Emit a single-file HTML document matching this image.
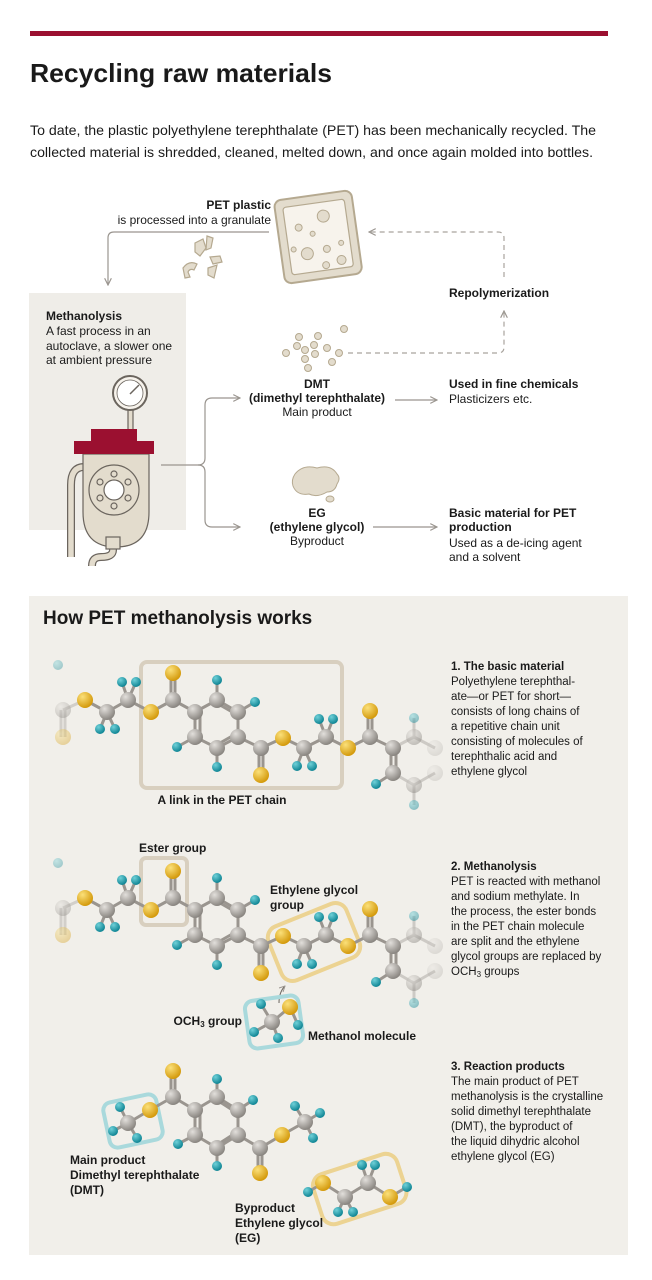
<!DOCTYPE html>
<html><head><meta charset="utf-8"><style>
html,body{margin:0;padding:0;background:#fff;width:652px;height:1280px;overflow:hidden}
svg{display:block}
text{font-family:"Liberation Sans",sans-serif;fill:#1a1a1a}
.b{font-weight:bold}
.s{font-size:12px}
.r{font-size:11.5px}
</style></head><body>
<svg width="652" height="1280" viewBox="0 0 652 1280" xmlns="http://www.w3.org/2000/svg">
<defs>
<radialGradient id="gC" cx="35%" cy="30%" r="70%"><stop offset="0" stop-color="#e2dfdb"/><stop offset="1" stop-color="#8a8681"/></radialGradient>
<radialGradient id="gO" cx="35%" cy="30%" r="70%"><stop offset="0" stop-color="#fbe07a"/><stop offset="1" stop-color="#d49a0c"/></radialGradient>
<radialGradient id="gH" cx="35%" cy="30%" r="70%"><stop offset="0" stop-color="#6fd0d8"/><stop offset="1" stop-color="#0f8594"/></radialGradient>
<marker id="ar" viewBox="0 0 10 10" refX="9" refY="5" markerWidth="7" markerHeight="7" orient="auto"><path d="M1,1 L9,5 L1,9" fill="none" stroke="#9a958f" stroke-width="1.4"/></marker>
<g id="chain">
 <g stroke="#9a958f" stroke-width="3" fill="none">
  <g opacity="0.35"><line x1="61" y1="710" x2="61" y2="737"/><line x1="65" y1="710" x2="65" y2="737"/><line x1="63" y1="710" x2="85" y2="700"/></g>
  <line x1="85" y1="700" x2="107" y2="712"/>
  <line x1="107" y1="712" x2="100" y2="729"/><line x1="107" y1="712" x2="115" y2="729"/>
  <line x1="107" y1="712" x2="128" y2="700"/>
  <line x1="128" y1="700" x2="122" y2="682"/><line x1="128" y1="700" x2="136" y2="682"/>
  <line x1="128" y1="700" x2="151" y2="712"/><line x1="151" y1="712" x2="173" y2="700"/>
  <line x1="171" y1="700" x2="171" y2="673"/><line x1="175" y1="700" x2="175" y2="673"/>
  <line x1="173" y1="700" x2="195" y2="712"/>
  <polygon points="195,712 217,700 238,712 238,737 217,748 195,737"/>
  <line x1="200" y1="716" x2="200" y2="733"/><line x1="220" y1="705" x2="234" y2="713"/><line x1="220" y1="743" x2="234" y2="735"/>
  <line x1="217" y1="700" x2="217" y2="680"/><line x1="238" y1="712" x2="255" y2="702"/><line x1="217" y1="748" x2="217" y2="767"/><line x1="195" y1="737" x2="177" y2="747"/>
  <line x1="238" y1="737" x2="261" y2="748"/>
  <line x1="259" y1="748" x2="259" y2="775"/><line x1="263" y1="748" x2="263" y2="775"/>
  <line x1="261" y1="748" x2="283" y2="738"/><line x1="283" y1="738" x2="304" y2="748"/>
  <line x1="304" y1="748" x2="297" y2="766"/><line x1="304" y1="748" x2="312" y2="766"/>
  <line x1="304" y1="748" x2="326" y2="737"/>
  <line x1="326" y1="737" x2="319" y2="719"/><line x1="326" y1="737" x2="333" y2="719"/>
  <line x1="326" y1="737" x2="348" y2="748"/><line x1="348" y1="748" x2="370" y2="737"/>
  <line x1="368" y1="737" x2="368" y2="711"/><line x1="372" y1="737" x2="372" y2="711"/>
  <line x1="370" y1="737" x2="393" y2="748"/>
  <line x1="391" y1="748" x2="391" y2="773"/><line x1="396" y1="750" x2="396" y2="771"/>
  <line x1="393" y1="773" x2="376" y2="784"/>
  <g opacity="0.4"><line x1="393" y1="748" x2="414" y2="737"/><line x1="414" y1="737" x2="414" y2="718"/><line x1="393" y1="773" x2="414" y2="785"/><line x1="414" y1="785" x2="414" y2="805"/><line x1="414" y1="737" x2="435" y2="748"/><line x1="414" y1="785" x2="435" y2="773"/></g>
 </g>
 <g opacity="0.35"><circle cx="63" cy="710" r="8" fill="url(#gC)"/><circle cx="63" cy="737" r="8" fill="url(#gO)"/><circle cx="58" cy="665" r="5" fill="url(#gH)"/></g>
 <circle cx="85" cy="700" r="8" fill="url(#gO)"/>
 <circle cx="100" cy="729" r="5" fill="url(#gH)"/><circle cx="115" cy="729" r="5" fill="url(#gH)"/>
 <circle cx="122" cy="682" r="5" fill="url(#gH)"/><circle cx="136" cy="682" r="5" fill="url(#gH)"/>
 <circle cx="107" cy="712" r="8" fill="url(#gC)"/><circle cx="128" cy="700" r="8" fill="url(#gC)"/>
 <circle cx="151" cy="712" r="8" fill="url(#gO)"/><circle cx="173" cy="700" r="8" fill="url(#gC)"/><circle cx="173" cy="673" r="8" fill="url(#gO)"/>
 <circle cx="217" cy="680" r="5" fill="url(#gH)"/><circle cx="255" cy="702" r="5" fill="url(#gH)"/><circle cx="217" cy="767" r="5" fill="url(#gH)"/><circle cx="177" cy="747" r="5" fill="url(#gH)"/>
 <circle cx="195" cy="712" r="8" fill="url(#gC)"/><circle cx="217" cy="700" r="8" fill="url(#gC)"/><circle cx="238" cy="712" r="8" fill="url(#gC)"/><circle cx="238" cy="737" r="8" fill="url(#gC)"/><circle cx="217" cy="748" r="8" fill="url(#gC)"/><circle cx="195" cy="737" r="8" fill="url(#gC)"/>
 <circle cx="261" cy="748" r="8" fill="url(#gC)"/><circle cx="261" cy="775" r="8" fill="url(#gO)"/><circle cx="283" cy="738" r="8" fill="url(#gO)"/>
 <circle cx="297" cy="766" r="5" fill="url(#gH)"/><circle cx="312" cy="766" r="5" fill="url(#gH)"/><circle cx="319" cy="719" r="5" fill="url(#gH)"/><circle cx="333" cy="719" r="5" fill="url(#gH)"/>
 <circle cx="304" cy="748" r="8" fill="url(#gC)"/><circle cx="326" cy="737" r="8" fill="url(#gC)"/>
 <circle cx="348" cy="748" r="8" fill="url(#gO)"/><circle cx="370" cy="737" r="8" fill="url(#gC)"/><circle cx="370" cy="711" r="8" fill="url(#gO)"/>
 <circle cx="393" cy="748" r="8" fill="url(#gC)"/><circle cx="393" cy="773" r="8" fill="url(#gC)"/><circle cx="376" cy="784" r="5" fill="url(#gH)"/>
 <g opacity="0.45"><circle cx="414" cy="737" r="8" fill="url(#gC)"/><circle cx="414" cy="718" r="5" fill="url(#gH)"/><circle cx="414" cy="785" r="8" fill="url(#gC)"/><circle cx="414" cy="805" r="5" fill="url(#gH)"/></g>
 <g opacity="0.2"><circle cx="435" cy="748" r="8" fill="url(#gC)"/><circle cx="435" cy="773" r="8" fill="url(#gC)"/></g>
</g>
</defs>

<!-- header -->
<rect x="30" y="31" width="578" height="5" fill="#9b1030"/>
<text x="30" y="82" class="b" font-size="26" textLength="302" lengthAdjust="spacingAndGlyphs">Recycling raw materials</text>
<text x="30" y="135" font-size="14" textLength="566" lengthAdjust="spacingAndGlyphs">To date, the plastic polyethylene terephthalate (PET) has been mechanically recycled. The</text>
<text x="30" y="157" font-size="14" textLength="563" lengthAdjust="spacingAndGlyphs">collected material is shredded, cleaned, melted down, and once again molded into bottles.</text>

<!-- top diagram -->
<rect x="29" y="293" width="157" height="237" fill="#efede8"/>
<text x="271" y="209" class="b s" text-anchor="end">PET plastic</text>
<text x="271" y="224" class="s" text-anchor="end">is processed into a granulate</text>
<path d="M269,232 H114 Q108,232 108,238 V285" fill="none" stroke="#9a958f" stroke-width="1.2" marker-end="url(#ar)"/>
<g fill="#e3dccd" stroke="#b5a990" stroke-width="1.2">
<path d="M195,243 l8,-4 l3,9 l-6,8 l-5,-4z"/><path d="M207,236 l6,2 l-2,10 l-5,2z"/><path d="M210,257 l10,-1 l2,6 l-9,2z"/>
<path d="M183,268 q6,-8 14,-4 l-3,6 q-4,-2 -6,2 l2,5 l-5,1z"/><path d="M208,268 l9,-3 l-3,13 l-6,-3z"/>
</g>
<g transform="rotate(-8 318 236)">
<rect x="279" y="195" width="78" height="84" rx="7" fill="#e3dccd" stroke="#b5a990" stroke-width="2"/>
<rect x="287" y="203" width="62" height="68" rx="3" fill="#f7f3ec" stroke="#b5a990" stroke-width="1.2"/>
<g fill="#e3dccd" stroke="#b5a990" stroke-width="1">
<circle cx="326" cy="217" r="6"/><circle cx="300" cy="225" r="3.5"/><circle cx="313" cy="233" r="2.5"/><circle cx="305" cy="252" r="6"/><circle cx="325" cy="250" r="3.5"/><circle cx="340" cy="246" r="2.5"/><circle cx="322" cy="266" r="3.5"/><circle cx="338" cy="263" r="4.5"/><circle cx="292" cy="246" r="2.5"/>
</g></g>
<path d="M504,277 V238 Q504,232 498,232 H369" fill="none" stroke="#a9a49e" stroke-width="1.2" stroke-dasharray="5,4" marker-end="url(#ar)"/>
<path d="M348,353 H498 Q504,353 504,347 V311" fill="none" stroke="#a9a49e" stroke-width="1.2" stroke-dasharray="5,4" marker-end="url(#ar)"/>
<text x="449" y="297" class="b s">Repolymerization</text>
<g fill="#e3dccd" stroke="#b5a990" stroke-width="1">
<circle cx="344" cy="329" r="3.5"/><circle cx="299" cy="337" r="3.5"/><circle cx="318" cy="336" r="3.5"/><circle cx="297" cy="346" r="3.5"/><circle cx="314" cy="345" r="3.5"/><circle cx="305" cy="350" r="3.5"/><circle cx="327" cy="348" r="3.5"/><circle cx="286" cy="353" r="3.5"/><circle cx="315" cy="354" r="3.5"/><circle cx="339" cy="353" r="3.5"/><circle cx="305" cy="359" r="3.5"/><circle cx="332" cy="362" r="3.5"/><circle cx="308" cy="368" r="3.5"/>
</g>
<text x="317" y="388" class="b s" text-anchor="middle">DMT</text>
<text x="317" y="402" class="b s" text-anchor="middle">(dimethyl terephthalate)</text>
<text x="317" y="416" class="s" text-anchor="middle">Main product</text>
<line x1="395" y1="400" x2="437" y2="400" stroke="#9a958f" stroke-width="1.2" marker-end="url(#ar)"/>
<text x="449" y="388" class="b s">Used in fine chemicals</text>
<text x="449" y="403" class="s">Plasticizers etc.</text>
<path d="M295,474 q8,-10 22,-6 q14,-4 20,6 q4,4 0,10 q-2,8 -10,8 q-10,6 -18,2 q-12,2 -16,-8 q-2,-6 2,-12z" fill="#e3dccd" stroke="#b5a990" stroke-width="1"/>
<ellipse cx="330" cy="499" rx="4" ry="3" fill="#e3dccd" stroke="#b5a990" stroke-width="1"/>
<text x="317" y="517" class="b s" text-anchor="middle">EG</text>
<text x="317" y="531" class="b s" text-anchor="middle">(ethylene glycol)</text>
<text x="317" y="545" class="s" text-anchor="middle">Byproduct</text>
<line x1="373" y1="527" x2="437" y2="527" stroke="#9a958f" stroke-width="1.2" marker-end="url(#ar)"/>
<text x="449" y="517" class="b s">Basic material for PET</text>
<text x="449" y="531" class="b s">production</text>
<text x="449" y="547" class="s">Used as a de-icing agent</text>
<text x="449" y="561" class="s">and a solvent</text>
<path d="M161,465 H198 Q205,465 205,458 V405 Q205,398 212,398 H240" fill="none" stroke="#9a958f" stroke-width="1.2" marker-end="url(#ar)"/>
<path d="M198,465 Q205,465 205,472 V520 Q205,527 212,527 H240" fill="none" stroke="#9a958f" stroke-width="1.2" marker-end="url(#ar)"/>
<text x="46" y="320" class="b s">Methanolysis</text>
<text x="46" y="335" class="s">A fast process in an</text>
<text x="46" y="350" class="s">autoclave, a slower one</text>
<text x="46" y="364" class="s">at ambient pressure</text>
<!-- autoclave -->
<g stroke="#6b655e" stroke-width="1.2">
<path d="M84,467 Q71,467 71,485 V557" fill="none" stroke="#6b655e" stroke-width="8"/>
<path d="M84,467 Q71,467 71,485 V557" fill="none" stroke="#e3dccd" stroke-width="5.5"/>
<path d="M113,545 V550 Q113,557 101,557 Q92,557 92,566" fill="none" stroke="#6b655e" stroke-width="8"/>
<path d="M113,545 V550 Q113,557 101,557 Q92,557 92,566" fill="none" stroke="#e3dccd" stroke-width="5.5"/>
<rect x="128" y="408" width="5" height="22" fill="#e3dccd"/>
<circle cx="130" cy="393" r="17" fill="#f7f3ec" stroke-width="2"/>
<circle cx="130" cy="393" r="13" fill="#fff" stroke-width="0.8"/>
<line x1="130" y1="394" x2="139" y2="385" stroke-width="1.5"/>
<path d="M83,454 H149 V512 Q149,547 116,547 Q83,547 83,512 Z" fill="#e3dccd"/>
<rect x="106" y="537" width="14" height="12" fill="#e3dccd"/>
<circle cx="114" cy="490" r="25" fill="#e3dccd"/>
<circle cx="114" cy="490" r="10" fill="#fff"/>
<g fill="#e3dccd"><circle cx="114" cy="474" r="3"/><circle cx="128" cy="482" r="3"/><circle cx="128" cy="498" r="3"/><circle cx="114" cy="506" r="3"/><circle cx="100" cy="498" r="3"/><circle cx="100" cy="482" r="3"/></g>
</g>
<rect x="91" y="429" width="46" height="13" fill="#9b1030"/>
<rect x="74" y="441" width="80" height="13" fill="#9b1030"/>

<!-- bottom panel -->
<rect x="29" y="596" width="599" height="659" fill="#f1efea"/>
<text x="43" y="624" class="b" font-size="19">How PET methanolysis works</text>

<rect x="141" y="662" width="201" height="126" rx="6" fill="none" stroke="#d8cfbf" stroke-width="4"/>
<use href="#chain"/>
<text x="222" y="804" class="b s" text-anchor="middle">A link in the PET chain</text>

<text x="451" y="670" class="b r">1. The basic material</text>
<text x="451" y="685" class="r">Polyethylene terephthal-</text><text x="451" y="700" class="r">ate—or PET for short—</text><text x="451" y="715" class="r">consists of long chains of</text><text x="451" y="730" class="r">a repetitive chain unit</text><text x="451" y="745" class="r">consisting of molecules of</text><text x="451" y="760" class="r">terephthalic acid and</text><text x="451" y="775" class="r">ethylene glycol</text>

<rect x="141" y="858" width="46" height="67" rx="5" fill="none" stroke="#d8cfbf" stroke-width="4"/>
<rect x="272" y="913" width="84" height="58" rx="12" transform="rotate(-22 314 942)" fill="none" stroke="#ecd392" stroke-width="4"/>
<use href="#chain" y="198"/>
<text x="139" y="852" class="b s">Ester group</text>
<text x="270" y="894" class="b s">Ethylene glycol</text>
<text x="270" y="909" class="b s">group</text>
<path d="M279,1003 Q279,992 285,986" fill="none" stroke="#6b655e" stroke-width="1" marker-end="url(#ar)"/>
<rect x="247" y="998" width="54" height="48" rx="8" transform="rotate(-8 274 1022)" fill="none" stroke="#a9d9dc" stroke-width="4"/>
<g stroke="#9a958f" stroke-width="3"><line x1="272" y1="1022" x2="290" y2="1007"/><line x1="290" y1="1007" x2="298" y2="1025"/><line x1="272" y1="1022" x2="261" y2="1004"/><line x1="272" y1="1022" x2="254" y2="1032"/><line x1="272" y1="1022" x2="278" y2="1038"/></g>
<circle cx="298" cy="1025" r="5" fill="url(#gH)"/><circle cx="261" cy="1004" r="5" fill="url(#gH)"/><circle cx="254" cy="1032" r="5" fill="url(#gH)"/><circle cx="278" cy="1038" r="5" fill="url(#gH)"/>
<circle cx="272" cy="1022" r="8" fill="url(#gC)"/><circle cx="290" cy="1007" r="8" fill="url(#gO)"/>
<text x="242" y="1025" class="b s" text-anchor="end">OCH<tspan font-size="8" dy="2">3</tspan><tspan dy="-2"> group</tspan></text>
<text x="308" y="1040" class="b s">Methanol molecule</text>

<text x="451" y="870" class="b r">2. Methanolysis</text>
<text x="451" y="885" class="r">PET is reacted with methanol</text><text x="451" y="900" class="r">and sodium methylate. In</text><text x="451" y="915" class="r">the process, the ester bonds</text><text x="451" y="930" class="r">in the PET chain molecule</text><text x="451" y="945" class="r">are split and the ethylene</text><text x="451" y="960" class="r">glycol groups are replaced by</text><text x="451" y="975" class="r">OCH<tspan font-size="8" dy="2">3</tspan><tspan dy="-2"> groups</tspan></text>

<rect x="106" y="1098" width="54" height="46" rx="8" transform="rotate(-12 133 1121)" fill="none" stroke="#a9d9dc" stroke-width="4"/>
<rect x="316" y="1163" width="88" height="52" rx="12" transform="rotate(-18 360 1190)" fill="none" stroke="#ecd392" stroke-width="4"/>
<g stroke="#9a958f" stroke-width="3" fill="none">
<line x1="171" y1="1097" x2="171" y2="1071"/><line x1="175" y1="1097" x2="175" y2="1071"/>
<line x1="173" y1="1097" x2="150" y2="1110"/><line x1="150" y1="1110" x2="128" y2="1123"/>
<line x1="128" y1="1123" x2="120" y2="1107"/><line x1="128" y1="1123" x2="113" y2="1131"/><line x1="128" y1="1123" x2="137" y2="1138"/>
<line x1="173" y1="1097" x2="195" y2="1110"/>
<polygon points="195,1110 217,1097 238,1110 238,1135 217,1148 195,1135"/>
<line x1="200" y1="1114" x2="200" y2="1131"/><line x1="220" y1="1102" x2="234" y2="1111"/><line x1="220" y1="1143" x2="234" y2="1134"/>
<line x1="217" y1="1097" x2="217" y2="1079"/><line x1="238" y1="1110" x2="253" y2="1100"/><line x1="217" y1="1148" x2="217" y2="1166"/><line x1="195" y1="1135" x2="178" y2="1144"/>
<line x1="238" y1="1135" x2="260" y2="1148"/>
<line x1="258" y1="1148" x2="258" y2="1173"/><line x1="262" y1="1148" x2="262" y2="1173"/>
<line x1="260" y1="1148" x2="282" y2="1135"/><line x1="282" y1="1135" x2="305" y2="1122"/>
<line x1="305" y1="1122" x2="295" y2="1106"/><line x1="305" y1="1122" x2="320" y2="1113"/><line x1="305" y1="1122" x2="313" y2="1138"/>
<line x1="308" y1="1192" x2="323" y2="1183"/><line x1="323" y1="1183" x2="345" y2="1197"/><line x1="345" y1="1197" x2="338" y2="1212"/><line x1="345" y1="1197" x2="353" y2="1212"/>
<line x1="345" y1="1197" x2="368" y2="1183"/><line x1="368" y1="1183" x2="362" y2="1165"/><line x1="368" y1="1183" x2="375" y2="1165"/><line x1="368" y1="1183" x2="390" y2="1197"/><line x1="390" y1="1197" x2="407" y2="1187"/>
</g>
<g>
<circle cx="120" cy="1107" r="5" fill="url(#gH)"/><circle cx="113" cy="1131" r="5" fill="url(#gH)"/><circle cx="137" cy="1138" r="5" fill="url(#gH)"/>
<circle cx="128" cy="1123" r="8" fill="url(#gC)"/><circle cx="150" cy="1110" r="8" fill="url(#gO)"/>
<circle cx="173" cy="1097" r="8" fill="url(#gC)"/><circle cx="173" cy="1071" r="8" fill="url(#gO)"/>
<circle cx="217" cy="1079" r="5" fill="url(#gH)"/><circle cx="253" cy="1100" r="5" fill="url(#gH)"/><circle cx="217" cy="1166" r="5" fill="url(#gH)"/><circle cx="178" cy="1144" r="5" fill="url(#gH)"/>
<circle cx="195" cy="1110" r="8" fill="url(#gC)"/><circle cx="217" cy="1097" r="8" fill="url(#gC)"/><circle cx="238" cy="1110" r="8" fill="url(#gC)"/><circle cx="238" cy="1135" r="8" fill="url(#gC)"/><circle cx="217" cy="1148" r="8" fill="url(#gC)"/><circle cx="195" cy="1135" r="8" fill="url(#gC)"/>
<circle cx="260" cy="1148" r="8" fill="url(#gC)"/><circle cx="260" cy="1173" r="8" fill="url(#gO)"/><circle cx="282" cy="1135" r="8" fill="url(#gO)"/>
<circle cx="295" cy="1106" r="5" fill="url(#gH)"/><circle cx="320" cy="1113" r="5" fill="url(#gH)"/><circle cx="313" cy="1138" r="5" fill="url(#gH)"/><circle cx="305" cy="1122" r="8" fill="url(#gC)"/>
<circle cx="308" cy="1192" r="5" fill="url(#gH)"/><circle cx="338" cy="1212" r="5" fill="url(#gH)"/><circle cx="353" cy="1212" r="5" fill="url(#gH)"/><circle cx="362" cy="1165" r="5" fill="url(#gH)"/><circle cx="375" cy="1165" r="5" fill="url(#gH)"/><circle cx="407" cy="1187" r="5" fill="url(#gH)"/>
<circle cx="323" cy="1183" r="8" fill="url(#gO)"/><circle cx="345" cy="1197" r="8" fill="url(#gC)"/><circle cx="368" cy="1183" r="8" fill="url(#gC)"/><circle cx="390" cy="1197" r="8" fill="url(#gO)"/>
</g>
<text x="70" y="1164" class="b s">Main product</text>
<text x="70" y="1179" class="b s">Dimethyl terephthalate</text>
<text x="70" y="1194" class="b s">(DMT)</text>
<text x="235" y="1212" class="b s">Byproduct</text>
<text x="235" y="1227" class="b s">Ethylene glycol</text>
<text x="235" y="1242" class="b s">(EG)</text>

<text x="451" y="1070" class="b r">3. Reaction products</text>
<text x="451" y="1085" class="r">The main product of PET</text><text x="451" y="1100" class="r">methanolysis is the crystalline</text><text x="451" y="1115" class="r">solid dimethyl terephthalate</text><text x="451" y="1130" class="r">(DMT), the byproduct of</text><text x="451" y="1145" class="r">the liquid dihydric alcohol</text><text x="451" y="1160" class="r">ethylene glycol (EG)</text>
</svg>
</body></html>
